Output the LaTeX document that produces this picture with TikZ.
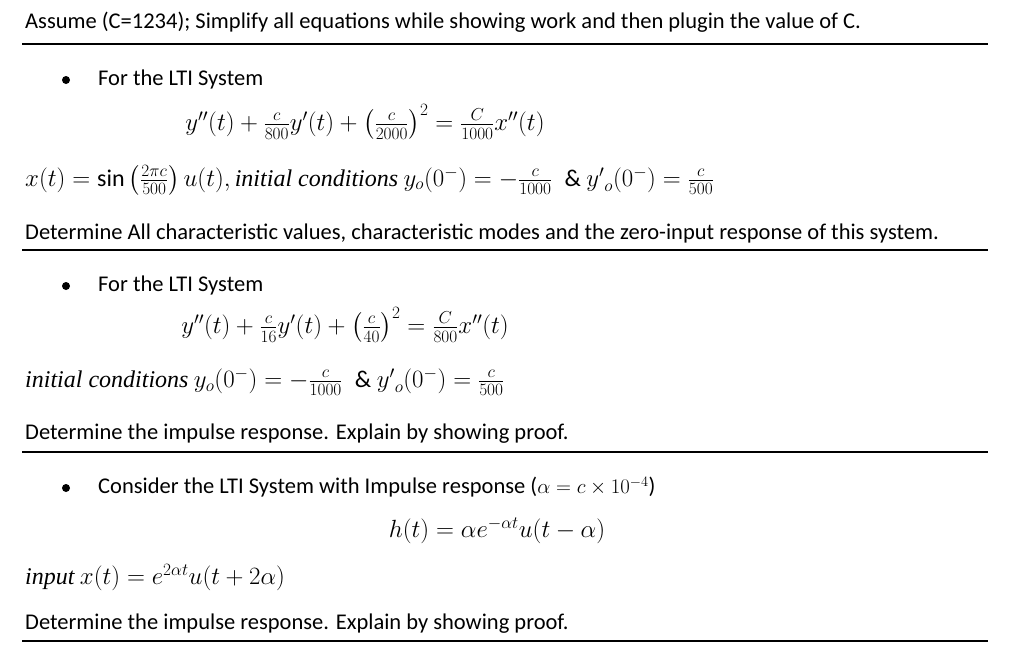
\documentclass[tikz,border=0pt]{standalone}
\usepackage{amsmath}
\usepackage{fontspec}
\setmainfont{Carlito}
\newfontfamily\serifit{Liberation Serif}[ItalicFont=* Italic]
\newcommand{\sit}[1]{\text{\serifit\itshape #1}}
\begin{document}
\begin{tikzpicture}[x=1pt,y=-1pt,
  txt/.style={anchor=west,inner sep=0pt,font=\fontsize{22.5}{26}\selectfont},
  eq/.style={inner sep=0pt,font=\fontsize{24}{28}\selectfont},
  rule/.style={line width=2pt},
  bul/.style={circle,fill=black,inner sep=0pt,minimum size=8pt}]
\useasboundingbox (0,0) rectangle (1024,670);
\node[txt] (t1) at (25,22) {Assume (C=1234); Simplify all equations while showing work and then plugin the value of C.};
\draw[rule] (22,44) -- (988,44);
\node[bul] (b1) at (66,80) {};
\node[txt] (l1) at (98,79) {For the LTI System};
\node[eq] (e1) at (365,122) {$y''(t)+\frac{c}{800}y'(t)+\left(\frac{c}{2000}\right)^{2}=\frac{C}{1000}x''(t)$};
\node[eq,anchor=west] (x1) at (25,180) {$x(t)=\sin\left(\frac{2\pi c}{500}\right)u(t),\sit{initial conditions}\ y_o(0^-)=-\frac{c}{1000}\;\ \text{\&}\ {y'}_o(0^-)=\frac{c}{500}$};
\node[txt] (d1) at (25,233) {Determine All characteristic values, characteristic modes and the zero-input response of this system.};
\draw[rule] (22,250) -- (988,250);
\node[bul] (b2) at (66,286) {};
\node[txt] (l2) at (98,285) {For the LTI System};
\node[eq] (e2) at (345,325) {$y''(t)+\frac{c}{16}y'(t)+\left(\frac{c}{40}\right)^{2}=\frac{C}{800}x''(t)$};
\node[eq,anchor=west] (i2) at (25,382) {$\sit{initial conditions}\ y_o(0^-)=-\frac{c}{1000}\;\ \text{\&}\ {y'}_o(0^-)=\frac{c}{500}$};
\node[txt] (d2) at (25,434) {Determine the impulse response. Explain by showing proof.};
\draw[rule] (22,452) -- (988,452);
\node[bul] (b3) at (66,488) {};
\node[txt] (l3) at (98,487) {Consider the LTI System with Impulse response ($\alpha=c\times10^{-4}$)};
\node[eq] (h3) at (497,531) {$h(t)=\alpha e^{-\alpha t}u(t-\alpha)$};
\node[eq,anchor=west] (in3) at (25,578) {$\sit{input}\ x(t)=e^{2\alpha t}u(t+2\alpha)$};
\node[txt] (d3) at (25,624) {Determine the impulse response. Explain by showing proof.};
\draw[rule] (22,641) -- (988,641);
\end{tikzpicture}
\end{document}
